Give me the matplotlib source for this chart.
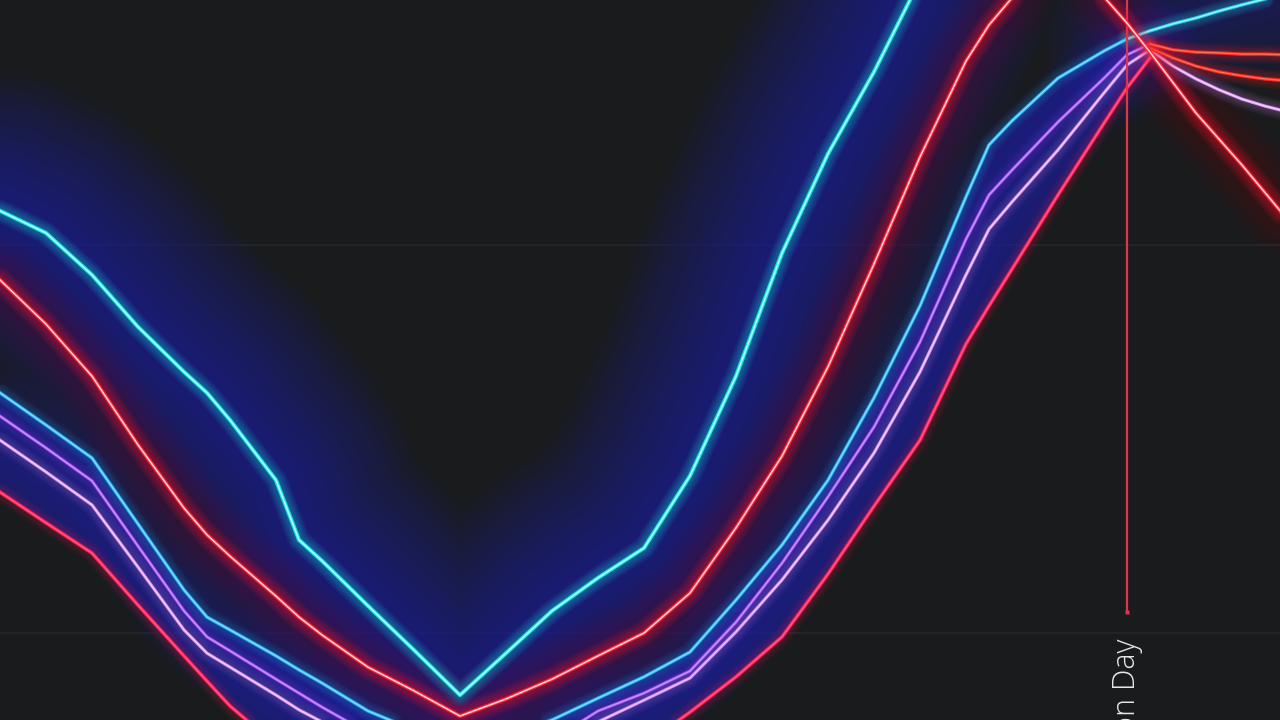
import matplotlib
matplotlib.use("Agg")
import numpy as np
import matplotlib.pyplot as plt

# day index (one step = one trading day), sampled where the lines bend
days = [0, 2, 4, 6, 8, 9, 10, 12, 13, 14, 16, 18, 20, 22, 24, 26, 28,
        30, 32, 34, 36, 38, 40, 42, 43, 44, 46, 48, 49]
tail_days = [50, 52, 54, 56]
outlook_days = [49, 50, 51, 52, 53, 54, 55, 56]
fc_days = [50, 51, 52, 53, 54, 55, 56]

upper = [20.88, 20.31, 19.23, 17.89, 16.73, 16.19, 15.49, 13.94, 12.40, 11.86,
         10.70, 9.56, 8.40, 9.48, 10.57, 11.42, 12.19, 14.05, 16.62, 19.79,
         22.35, 24.46, 26.83, 29.15, 29.92, 30.57, 31.47, 31.78, 31.86]
main = [19.10, 17.96, 16.62, 14.85, 13.22, 12.53, 11.98, 10.95, 10.41, 9.95,
        9.12, 8.51, 7.86, 8.30, 8.81, 9.41, 10.00, 11.03, 12.71, 14.56,
        16.86, 19.51, 22.27, 24.74, 25.67, 26.37, 27.06, 26.39, 25.72]
main_tail = [24.97, 23.40, 22.06, 20.64]
blue = [16.19, 15.36, 14.51, 12.81, 11.11, 10.41, 10.08, 9.41, 9.05, 8.71,
        7.99, 7.50, 7.24, 7.37, 7.76, 8.32, 8.87, 9.51, 10.85, 12.27,
        13.94, 16.06, 18.43, 21.24, 22.58, 23.20, 24.30, 25.00, 25.31]
blue_outlook = [25.31, 25.52, 25.70, 25.85, 26.03, 26.19, 26.34, 26.49]
purple = [15.59, 14.77, 13.92, 12.24, 10.57, 9.90, 9.54, 8.81, 8.45, 8.09,
          7.42, 6.98, 6.78, 6.93, 7.24, 7.99, 8.45, 9.02, 10.28, 11.80,
          13.51, 15.31, 17.50, 20.15, 21.29, 21.93, 23.17, 24.30, 24.90, 25.18]
lilac = [14.97, 14.15, 13.30, 11.70, 10.08, 9.48, 9.12, 8.40, 8.02, 7.71,
         7.11, 6.68, 6.47, 6.60, 6.98, 7.71, 8.27, 8.84, 10.03, 11.37,
         12.91, 14.64, 16.73, 19.23, 20.41, 21.11, 22.45, 23.92, 24.64, 25.03]
crimson = [13.63, 12.84, 12.06, 10.72, 9.41, 8.76, 8.12, 7.11, 6.60, 6.21,
           5.70, 5.31, 5.18, 5.31, 5.70, 6.34, 7.11, 7.96, 8.87, 9.90,
           11.52, 13.27, 14.97, 17.45, 18.43, 19.38, 21.29, 23.14, 24.05, 24.82]
fc_high = [25.18, 25.03, 24.97, 24.95, 24.92, 24.92, 24.90]
fc_mid = [25.08, 24.82, 24.61, 24.46, 24.36, 24.28, 24.23]
fc_low = [25.03, 24.61, 24.28, 24.00, 23.76, 23.58, 23.43]

event_day = 49
event_label = "Election Day"
grid_levels = [10, 20]

BG = "#191b1d"


def haze(ax, x, y, color, wmax, wmin, n, alpha, z):
    # many soft strokes stacked -> smooth glow
    for w in np.linspace(wmax, wmin, n):
        ax.plot(x, y, color=color, lw=w, alpha=alpha, solid_capstyle="round",
                solid_joinstyle="round", zorder=z)


def neon(ax, x, y, color, core, lw=2.4, glow=0.05, spread=14, z=4):
    haze(ax, x, y, color, spread, 4, 7, glow, z)
    ax.plot(x, y, color=color, lw=lw, solid_joinstyle="round", zorder=z)
    ax.plot(x, y, color=core, lw=lw * 0.4, solid_joinstyle="round", zorder=z)


def main_plot():
    fig = plt.figure(figsize=(12.8, 7.2), dpi=100, facecolor=BG)
    ax = fig.add_axes([0, 0, 1, 1])
    ax.set_facecolor(BG)

    for g in grid_levels:
        ax.axhline(g, color="#25282b", lw=1.2, zorder=0)

    low_days = days + [50]
    blue_ext = blue + [blue_outlook[1]]
    main_all = main + main_tail
    main_days = days + tail_days

    # navy haze round the upper line and the lower bundle
    haze(ax, days, upper, "#1c1cd8", 200, 20, 22, 0.032, 1)
    haze(ax, low_days, purple, "#1c1cd8", 70, 10, 10, 0.03, 1)
    ax.fill_between(low_days, blue_ext, crimson, color="#1e1ea0", alpha=0.6,
                    lw=0, zorder=1)
    haze(ax, outlook_days, blue_outlook, "#1c1cd8", 120, 10, 12, 0.03, 1)
    haze(ax, main_days, main_all, "#a80c14", 60, 10, 10, 0.025, 2)

    neon(ax, low_days, crimson, "#ff1a55", "#ff5a82", lw=2.7, glow=0.035)
    neon(ax, low_days, lilac, "#d68cf2", "#f4d2ff", lw=2.3, glow=0.03)
    neon(ax, low_days, purple, "#a050f0", "#cc98ff", lw=2.3, glow=0.03)
    neon(ax, days, blue, "#24aef0", "#86dcff", lw=2.5, glow=0.04)
    neon(ax, outlook_days, blue_outlook, "#22d0e8", "#a0f4ff", lw=2.5, glow=0.05)
    neon(ax, fc_days, fc_low, "#d890f0", "#f6d6ff", lw=2.3, glow=0.04)
    neon(ax, fc_days, fc_mid, "#f0281e", "#ff7058", lw=2.5, glow=0.05)
    neon(ax, fc_days, fc_high, "#f0281e", "#ff7058", lw=2.5, glow=0.05)
    neon(ax, days, upper, "#16e6e6", "#b0ffff", lw=2.9, glow=0.06, spread=16)

    # event marker
    ax.vlines(event_day, 10.54, 27, color="#e0344c", lw=1.6, zorder=5)
    ax.plot([event_day], [10.54], marker="s", ms=3.5, color="#e0344c",
            mec="none", zorder=5)
    ax.text(event_day, 9.85, event_label, rotation=90, ha="center", va="top",
            color="#e8e8e8", fontsize=22, fontfamily="Open Sans",
            fontweight="light", zorder=6)

    neon(ax, main_days, main_all, "#ff1e32", "#ffd4d4", lw=2.9, glow=0.07,
         spread=18, z=6)

    ax.set_xlim(0, 1280 / 23)
    ax.set_ylim(7.758, 26.314)
    ax.axis("off")
    fig.savefig("out.png", dpi=100, facecolor=BG)
    plt.close(fig)


if __name__ == "__main__":
    main_plot()
